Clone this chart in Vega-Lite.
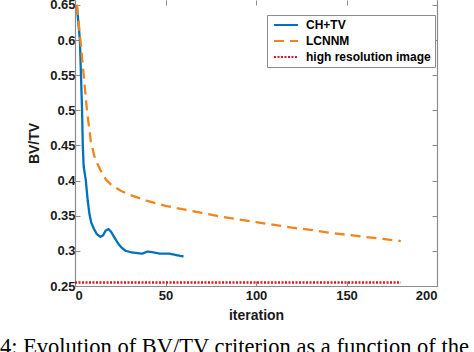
{
  "$schema": "https://vega.github.io/schema/vega-lite/v6.json",
  "width": 362,
  "height": 286,
  "autosize": {"type": "none"},
  "padding": {"left": 75, "top": 0, "right": 37, "bottom": 66},
  "background": "white",
  "config": {
    "view": {"stroke": null},
    "font": "Liberation Sans",
    "axis": {
      "grid": false,
      "domainColor": "#8c8c8c",
      "tickColor": "#8c8c8c",
      "domainWidth": 1.2,
      "tickSize": -5,
      "labelFont": "Liberation Sans",
      "labelFontWeight": "bold",
      "labelFontSize": 13,
      "labelColor": "#1a1a1a",
      "titleFont": "Liberation Sans",
      "titleFontWeight": "bold",
      "titleFontSize": 14,
      "titleColor": "#1a1a1a"
    }
  },
  "title": {
    "text": "4: Evolution of BV/TV criterion as a function of the iteration",
    "orient": "bottom",
    "anchor": "start",
    "frame": "group",
    "dx": -75,
    "offset": 14,
    "font": "Liberation Serif",
    "fontSize": 22.5,
    "fontWeight": "normal",
    "color": "#000000"
  },
  "data": {
    "values": [
      {"series": "CH+TV", "iteration": 1, "bvtv": 0.65},
      {"series": "CH+TV", "iteration": 2.7, "bvtv": 0.6},
      {"series": "CH+TV", "iteration": 3.3, "bvtv": 0.55},
      {"series": "CH+TV", "iteration": 3.9, "bvtv": 0.5},
      {"series": "CH+TV", "iteration": 4.3, "bvtv": 0.45},
      {"series": "CH+TV", "iteration": 4.8, "bvtv": 0.42},
      {"series": "CH+TV", "iteration": 6, "bvtv": 0.4},
      {"series": "CH+TV", "iteration": 7, "bvtv": 0.372},
      {"series": "CH+TV", "iteration": 8, "bvtv": 0.352},
      {"series": "CH+TV", "iteration": 9, "bvtv": 0.34},
      {"series": "CH+TV", "iteration": 10.5, "bvtv": 0.331},
      {"series": "CH+TV", "iteration": 12, "bvtv": 0.324},
      {"series": "CH+TV", "iteration": 14, "bvtv": 0.32},
      {"series": "CH+TV", "iteration": 15.5, "bvtv": 0.322},
      {"series": "CH+TV", "iteration": 17, "bvtv": 0.329},
      {"series": "CH+TV", "iteration": 18.5, "bvtv": 0.331},
      {"series": "CH+TV", "iteration": 20, "bvtv": 0.327},
      {"series": "CH+TV", "iteration": 22, "bvtv": 0.318},
      {"series": "CH+TV", "iteration": 24, "bvtv": 0.31},
      {"series": "CH+TV", "iteration": 26, "bvtv": 0.304},
      {"series": "CH+TV", "iteration": 28, "bvtv": 0.3},
      {"series": "CH+TV", "iteration": 31, "bvtv": 0.298},
      {"series": "CH+TV", "iteration": 34, "bvtv": 0.297},
      {"series": "CH+TV", "iteration": 37, "bvtv": 0.296},
      {"series": "CH+TV", "iteration": 40, "bvtv": 0.299},
      {"series": "CH+TV", "iteration": 43, "bvtv": 0.298},
      {"series": "CH+TV", "iteration": 47, "bvtv": 0.296},
      {"series": "CH+TV", "iteration": 52, "bvtv": 0.296},
      {"series": "CH+TV", "iteration": 56, "bvtv": 0.294},
      {"series": "CH+TV", "iteration": 60, "bvtv": 0.292},
      {"series": "LCNNM", "iteration": 1, "bvtv": 0.65},
      {"series": "LCNNM", "iteration": 2, "bvtv": 0.625},
      {"series": "LCNNM", "iteration": 3, "bvtv": 0.6},
      {"series": "LCNNM", "iteration": 4, "bvtv": 0.572},
      {"series": "LCNNM", "iteration": 5, "bvtv": 0.545},
      {"series": "LCNNM", "iteration": 6.6, "bvtv": 0.5},
      {"series": "LCNNM", "iteration": 8.8, "bvtv": 0.455},
      {"series": "LCNNM", "iteration": 11, "bvtv": 0.432},
      {"series": "LCNNM", "iteration": 14, "bvtv": 0.415},
      {"series": "LCNNM", "iteration": 17, "bvtv": 0.402},
      {"series": "LCNNM", "iteration": 20, "bvtv": 0.394},
      {"series": "LCNNM", "iteration": 25, "bvtv": 0.386},
      {"series": "LCNNM", "iteration": 30, "bvtv": 0.38},
      {"series": "LCNNM", "iteration": 40, "bvtv": 0.371},
      {"series": "LCNNM", "iteration": 50, "bvtv": 0.364},
      {"series": "LCNNM", "iteration": 60, "bvtv": 0.359},
      {"series": "LCNNM", "iteration": 70, "bvtv": 0.354},
      {"series": "LCNNM", "iteration": 80, "bvtv": 0.349},
      {"series": "LCNNM", "iteration": 90, "bvtv": 0.345},
      {"series": "LCNNM", "iteration": 100, "bvtv": 0.341},
      {"series": "LCNNM", "iteration": 110, "bvtv": 0.337},
      {"series": "LCNNM", "iteration": 120, "bvtv": 0.333},
      {"series": "LCNNM", "iteration": 130, "bvtv": 0.33},
      {"series": "LCNNM", "iteration": 140, "bvtv": 0.326},
      {"series": "LCNNM", "iteration": 150, "bvtv": 0.323},
      {"series": "LCNNM", "iteration": 160, "bvtv": 0.32},
      {"series": "LCNNM", "iteration": 170, "bvtv": 0.317},
      {"series": "LCNNM", "iteration": 180, "bvtv": 0.314},
      {"series": "high resolution image", "iteration": 0, "bvtv": 0.255},
      {"series": "high resolution image", "iteration": 180, "bvtv": 0.255}
    ]
  },
  "layer": [
    {
      "mark": {"type": "line", "strokeWidth": 2.3, "clip": true},
      "encoding": {
        "x": {
          "field": "iteration", "type": "quantitative",
          "scale": {"domain": [0, 200], "nice": false},
          "axis": {"values": [0, 50, 100, 150, 200], "title": "iteration", "labelPadding": 8, "titlePadding": 6}
        },
        "y": {
          "field": "bvtv", "type": "quantitative",
          "scale": {"domain": [0.25, 0.657], "nice": false, "zero": false},
          "axis": {"values": [0.25, 0.3, 0.35, 0.4, 0.45, 0.5, 0.55, 0.6, 0.65], "format": ".2~f", "title": "BV/TV", "labelPadding": 5, "titlePadding": 8}
        },
        "color": {
          "field": "series", "type": "nominal",
          "scale": {"domain": ["CH+TV", "LCNNM", "high resolution image"], "range": ["#0072BD", "#F0851E", "#E3121E"]},
          "legend": {
            "title": null,
            "orient": "none",
            "legendX": 192,
            "legendY": 15,
            "strokeColor": "#8c8c8c",
            "fillColor": "white",
            "padding": 4,
            "symbolType": "M-1,0H7",
            "symbolSize": 36,
            "symbolStrokeWidth": 2,
            "labelOffset": 23,
            "labelFont": "Liberation Sans",
            "labelFontWeight": "bold",
            "labelFontSize": 12,
            "labelColor": "#000000",
            "rowPadding": 4
          }
        },
        "strokeDash": {
          "field": "series", "type": "nominal",
          "scale": {"domain": ["CH+TV", "LCNNM", "high resolution image"], "range": [[1, 0], [10, 6], [2, 1.5]]},
          "legend": null
        },
        "order": {"field": "iteration", "type": "quantitative"}
      }
    },
    {
      "mark": {"type": "line", "opacity": 0},
      "encoding": {
        "x": {
          "field": "iteration", "type": "quantitative",
          "axis": {"orient": "top", "values": [0, 50, 100, 150, 200], "labels": false, "title": null, "domain": false}
        },
        "y": {
          "field": "bvtv", "type": "quantitative",
          "axis": {"orient": "right", "values": [0.25, 0.3, 0.35, 0.4, 0.45, 0.5, 0.55, 0.6, 0.65], "labels": false, "title": null}
        },
        "detail": {"field": "series"}
      }
    }
  ],
  "resolve": {"axis": {"x": "independent", "y": "independent"}}
}
